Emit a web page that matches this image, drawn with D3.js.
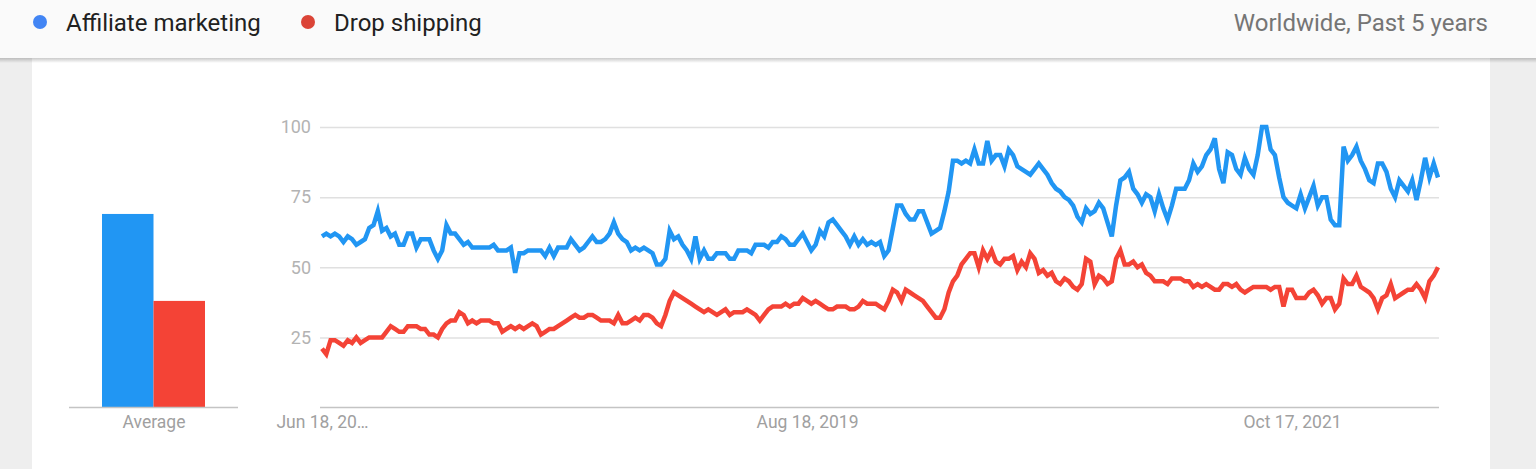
<!DOCTYPE html>
<html>
<head>
<meta charset="utf-8">
<script src="https://cdn.jsdelivr.net/npm/d3@7"></script>
<style>
  html, body { margin: 0; padding: 0; background: #eeeeee; }
  body { width: 1536px; height: 469px; overflow: hidden; font-family: Roboto, "Noto Sans", sans-serif; }
  .axis text { font-family: Roboto, sans-serif; }
</style>
</head>
<body>
<div id="chart"></div>
<script>
// series names and colours
var seriesNames = ["Affiliate marketing", "Drop shipping"];
var seriesColors = ["#2196f3", "#f44336"];
var averages = [69, 38];

// weekly interest values (Jun 18, 2017 onwards)
var affiliate = [
  61,62,61,62,61,59,61,60,58,59,
  60,64,65,70,63,64,61,62,58,58,
  62,62,57,60,60,60,56,53,56,65,
  62,62,60,58,59,57,57,57,57,57,
  58,56,56,56,57,48,55,55,56,56,
  56,56,54,57,54,57,57,57,60,58,
  56,57,59,61,59,59,60,62,66,62,
  60,59,56,57,56,57,56,55,51,51,
  53,63,60,61,58,56,53,61,53,56,
  53,53,55,55,55,53,53,56,56,56,
  55,58,58,58,57,59,59,61,60,58,
  58,60,62,59,56,58,63,61,66,67,
  65,63,61,58,61,58,60,58,59,58,
  59,54,56,64,72,72,69,67,67,70,
  70,66,62,63,64,70,77,88,88,87,
  88,87,92,87,87,95,88,90,90,86,
  92,90,86,85,84,83,85,87,85,83,
  80,78,77,75,74,72,68,66,71,69,
  70,73,71,66,61,72,81,82,84,78,
  76,73,76,75,70,76,71,67,72,78,
  78,78,81,87,84,86,90,92,96,85,
  80,91,90,85,83,89,85,83,90,100,
  100,92,90,82,75,73,72,71,76,71,
  75,79,72,75,75,67,65,65,93,88,
  90,93,88,85,81,80,87,87,84,78,
  75,81,79,77,81,74,81,89,82,87,82
];
var dropshipping = [
  21,19,24,24,23,22,24,23,25,23,
  24,25,25,25,25,27,29,28,27,27,
  29,29,29,28,28,26,26,25,28,30,
  31,31,34,33,30,31,30,31,31,31,
  30,30,27,28,29,28,29,28,29,30,
  29,26,27,28,28,29,30,31,32,33,
  32,32,33,33,32,31,31,31,30,33,
  30,30,31,32,31,33,33,32,30,29,
  33,38,41,40,39,38,37,36,35,34,
  35,34,33,34,35,33,34,34,34,35,
  34,33,31,33,35,36,36,36,37,36,
  37,37,39,38,37,38,37,36,35,35,
  36,36,36,35,35,36,38,37,37,37,
  36,35,38,42,41,38,42,41,40,39,
  38,36,34,32,32,35,41,45,47,51,
  53,55,55,50,56,53,56,52,51,53,
  53,54,49,52,50,55,53,48,49,47,
  48,45,44,46,45,43,42,44,53,52,
  44,47,46,44,45,53,56,51,51,52,
  50,51,48,47,45,45,45,44,46,46,
  46,45,45,43,44,43,44,43,42,42,
  44,44,43,44,42,41,42,43,43,43,
  43,42,43,43,36,42,42,39,39,39,
  41,42,40,37,39,39,35,37,46,44,
  44,47,43,42,41,39,35,39,40,44,
  39,40,41,42,42,44,42,39,45,47,50
];

var yTicks = [25, 50, 75, 100];
var xTickDates = ["2017-06-18", "2019-08-18", "2021-10-17"];
var xTickLabels = ["Jun 18, 20\u2026", "Aug 18, 2019", "Oct 17, 2021"];
var headerRight = "Worldwide, Past 5 years";

var parseDay = d3.timeParse("%Y-%m-%d");
var startDate = parseDay("2017-06-18");
var dates = affiliate.map(function (d, i) { return d3.timeWeek.offset(startDate, i); });

var W = 1536, H = 469;

var svg = d3.select("#chart").append("svg")
    .attr("width", W)
    .attr("height", H)
    .style("display", "block");

// header shadow + bar
var defs = svg.append("defs");
var grad = defs.append("linearGradient").attr("id", "shadow").attr("x1", 0).attr("x2", 0).attr("y1", 0).attr("y2", 1);
grad.append("stop").attr("offset", "0%").attr("stop-color", "#000").attr("stop-opacity", 0.25);
grad.append("stop").attr("offset", "100%").attr("stop-color", "#000").attr("stop-opacity", 0);

// white card
svg.append("rect").attr("x", 32).attr("y", 56).attr("width", 1458).attr("height", H - 56).attr("fill", "#fff");

svg.append("rect").attr("x", 0).attr("y", 57).attr("width", W).attr("height", 6).attr("fill", "url(#shadow)");
svg.append("rect").attr("x", 0).attr("y", 0).attr("width", W).attr("height", 58).attr("fill", "#fafafa");

// legend
var legend = svg.append("g").attr("class", "legend");
var legendX = [40, 308];
seriesNames.forEach(function (name, i) {
    legend.append("circle")
        .attr("cx", legendX[i])
        .attr("cy", 22)
        .attr("r", 7)
        .attr("fill", i === 0 ? "#4285f4" : "#db4437");
    legend.append("text")
        .attr("x", legendX[i] + 26)
        .attr("y", 31)
        .style("font-size", "24px")
        .style("fill", "#212121")
        .text(name);
});
svg.append("text")
    .attr("x", 1488)
    .attr("y", 31)
    .attr("text-anchor", "end")
    .style("font-size", "24px")
    .style("fill", "#757575")
    .text(headerRight);

// ---- line chart ----
var plotLeft = 320, plotRight = 1439;
var yScale = d3.scaleLinear().domain([0, 100]).range([407.5, 127]);
var xScale = d3.scaleTime()
    .domain([dates[0], dates[dates.length - 1]])
    .range([322, 1438]);

var yAxis = d3.axisLeft(yScale)
    .tickValues(yTicks)
    .tickSize(-(plotRight - plotLeft))
    .tickPadding(9);

var gy = svg.append("g")
    .attr("class", "axis y_axis")
    .attr("transform", "translate(" + plotLeft + ",0)")
    .call(yAxis);
gy.select(".domain").remove();
gy.selectAll(".tick line").attr("stroke", "#e0e0e0").attr("stroke-width", 1.5);
gy.selectAll(".tick text")
    .style("font-size", "18px")
    .style("fill", "#b3b3b3");

// baseline
svg.append("line")
    .attr("x1", plotLeft).attr("x2", plotRight)
    .attr("y1", yScale(0)).attr("y2", yScale(0))
    .attr("stroke", "#c4c4c4").attr("stroke-width", 1.5);

var xAxis = d3.axisBottom(xScale)
    .tickValues(xTickDates.map(parseDay))
    .tickSize(0)
    .tickPadding(8)
    .tickFormat(function (d, i) { return xTickLabels[i]; });

var gx = svg.append("g")
    .attr("class", "axis x_axis")
    .attr("transform", "translate(0," + yScale(0) + ")")
    .call(xAxis);
gx.select(".domain").remove();
gx.selectAll(".tick text")
    .style("font-size", "17.5px")
    .style("fill", "#a0a0a0");

var line = d3.line()
    .x(function (d, i) { return xScale(dates[i]); })
    .y(function (d) { return yScale(d); });

[affiliate, dropshipping].forEach(function (series, k) {
    svg.append("path")
        .datum(series)
        .attr("fill", "none")
        .attr("stroke", seriesColors[k])
        .attr("stroke-width", 4.5)
        .attr("d", line);
});

// ---- average bars ----
var barX = d3.scaleBand()
    .domain(seriesNames)
    .range([102, 205])
    .padding(0);

svg.selectAll(".bar")
    .data(averages)
    .enter().append("rect")
    .attr("class", "bar")
    .attr("x", function (d, i) { return barX(seriesNames[i]); })
    .attr("width", barX.bandwidth())
    .attr("y", function (d) { return yScale(d); })
    .attr("height", function (d) { return yScale(0) - yScale(d); })
    .attr("fill", function (d, i) { return seriesColors[i]; });

svg.append("line")
    .attr("x1", 69).attr("x2", 238)
    .attr("y1", yScale(0)).attr("y2", yScale(0))
    .attr("stroke", "#c4c4c4").attr("stroke-width", 1.5);

svg.append("text")
    .attr("x", 154)
    .attr("y", 428)
    .attr("text-anchor", "middle")
    .style("font-size", "17.5px")
    .style("fill", "#a0a0a0")
    .text("Average");
</script>
</body>
</html>
